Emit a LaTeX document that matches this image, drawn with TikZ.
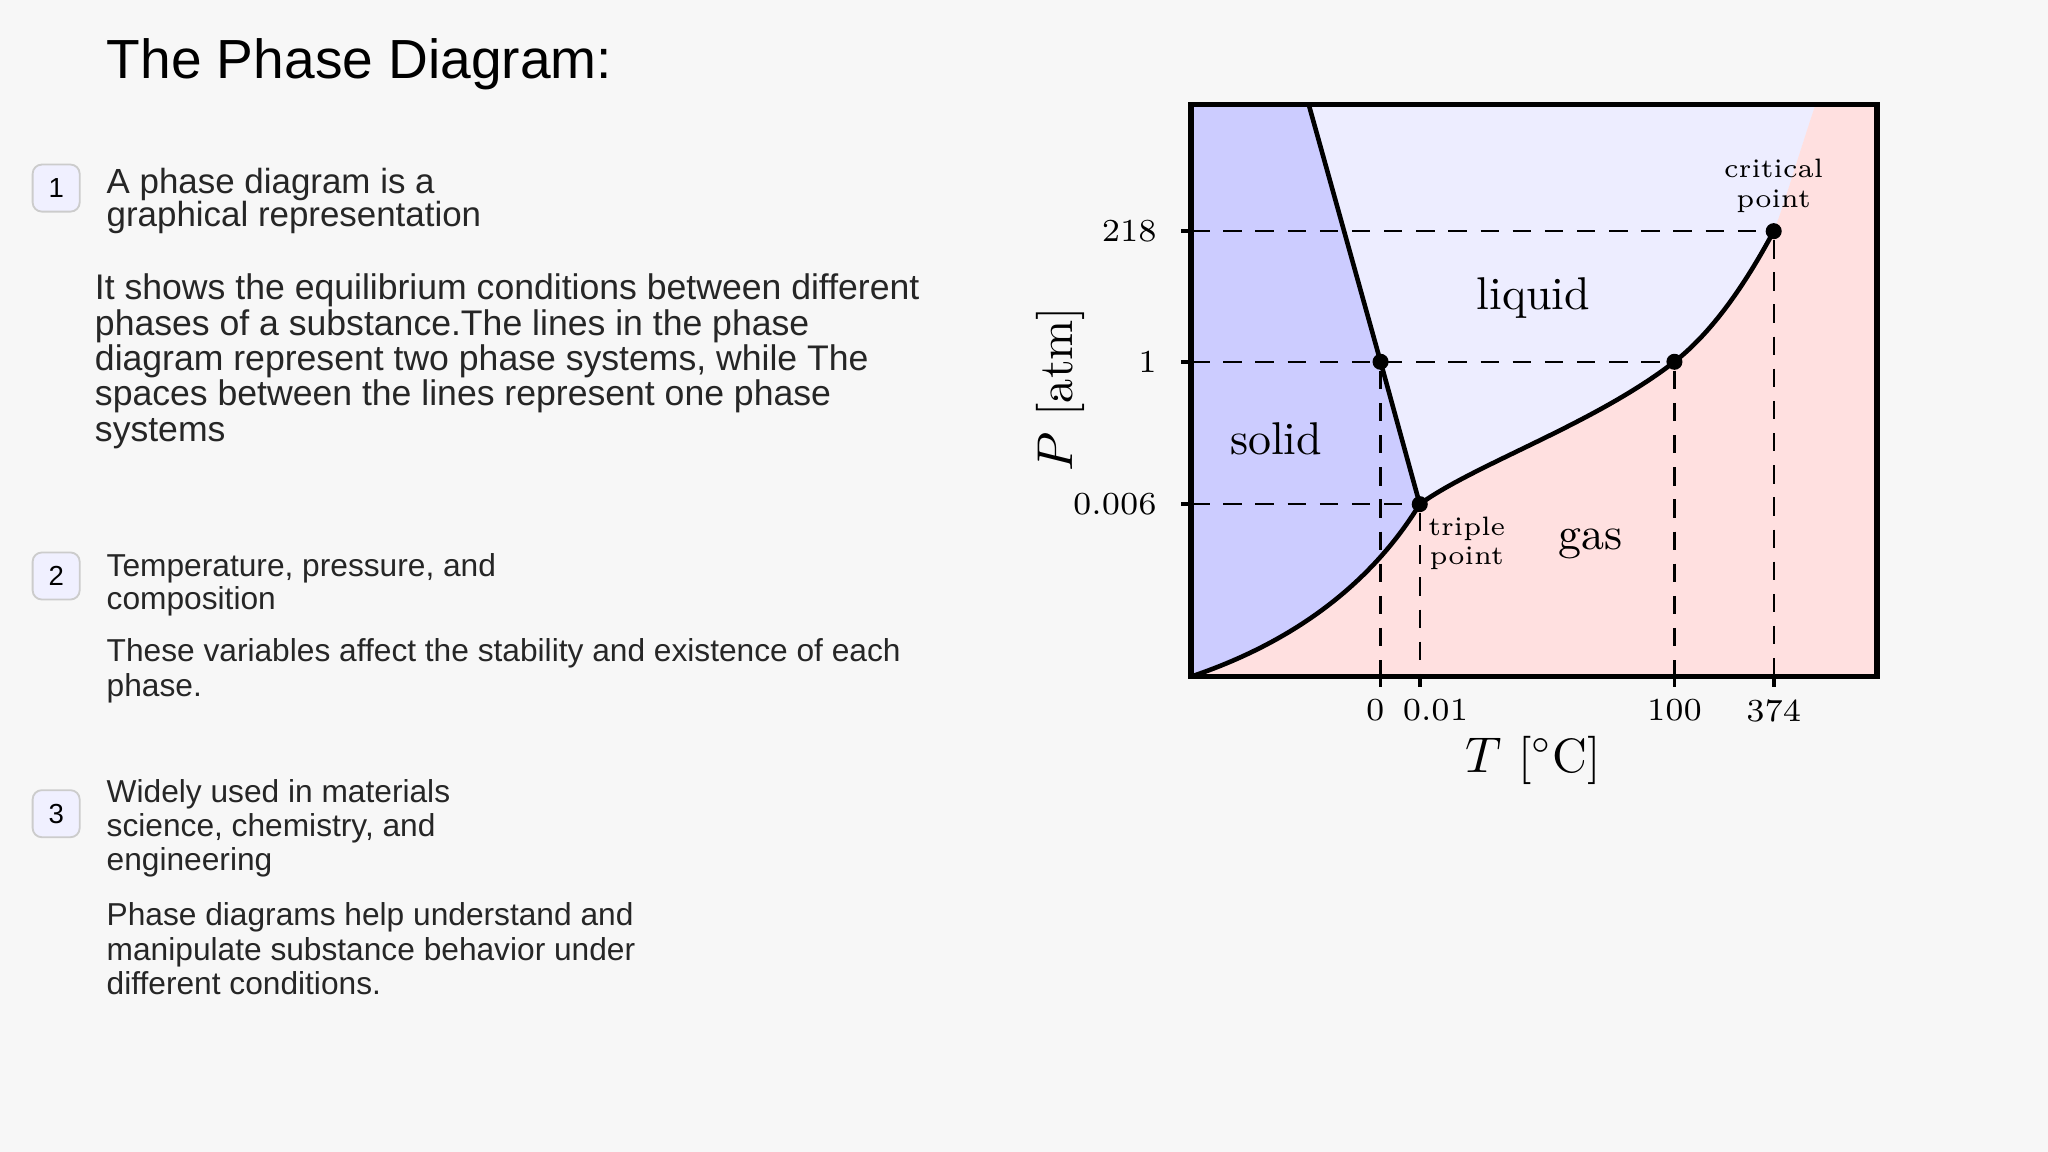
\documentclass[tikz,border=0pt]{standalone}
\usepackage{fontspec}
\newfontfamily\sans{Liberation Sans}
\begin{document}
\begin{tikzpicture}[x=0.01cm,y=-0.01cm,
  num/.style={draw=gray!40,fill=blue!6,rounded corners=2pt,minimum size=0.36cm,inner sep=0pt,font=\sans\fontsize{6}{7}\selectfont},
  txt/.style={anchor=north west,inner sep=0pt,align=left,text=black!85},
  dsh/.style={dashed,dash pattern=on 4pt off 3pt,line width=0.5pt},
  dot/.style={circle,fill=black,inner sep=0pt,minimum size=3.5pt},
  lm/.style={font=\fontsize{7}{7}\selectfont}]
\useasboundingbox (0,0) rectangle (1568,882);
\fill[gray!6] (0,0) rectangle (1568,882);
% title
\node[txt,font=\sans\fontsize{12}{14}\selectfont,text=black] (title) at (81,29) {The Phase Diagram:};
% item 1
\node[num] (n1) at (43,144) {1};
\node[txt,font=\sans\fontsize{7.6}{7.3}\selectfont] (h1) at (81,128) {A phase diagram is a\\graphical representation};
\node[txt,font=\sans\fontsize{7.75}{7.7}\selectfont] (p1) at (72,209) {It shows the equilibrium conditions between different\\phases of a substance.The lines in the phase\\diagram represent two phase systems, while The\\spaces between the lines represent one phase\\systems};
% item 2
\node[num] (n2) at (43,441) {2};
\node[txt,font=\sans\fontsize{6.9}{7.2}\selectfont] (h2) at (81,423) {Temperature, pressure, and\\composition};
\node[txt,font=\sans\fontsize{6.9}{7.6}\selectfont] (p2) at (81,488) {These variables affect the stability and existence of each\\phase.};
% item 3
\node[num] (n3) at (43,623) {3};
\node[txt,font=\sans\fontsize{6.9}{7.4}\selectfont] (h3) at (81,596) {Widely used in materials\\science, chemistry, and\\engineering};
\node[txt,font=\sans\fontsize{6.9}{7.6}\selectfont] (p3) at (81,690) {Phase diagrams help understand and\\manipulate substance behavior under\\different conditions.};
% plot regions
\fill[blue!20] (912,80) -- (1002,80) -- (1057,277) -- (1087,386) .. controls (1060,430) and (1010,485) .. (912,518) -- cycle;
\fill[blue!7] (1002,80) -- (1390,80) .. controls (1375,125) and (1365,160) .. (1358,177) .. controls (1335,220) and (1310,255) .. (1282,277) .. controls (1220,325) and (1130,355) .. (1087,386) -- (1057,277) -- cycle;
\fill[red!12] (1390,80) -- (1437,80) -- (1437,518) -- (912,518) .. controls (1010,485) and (1060,430) .. (1087,386) .. controls (1130,355) and (1220,325) .. (1282,277) .. controls (1310,255) and (1335,220) .. (1358,177) .. controls (1365,160) and (1375,125) .. (1390,80) -- cycle;
% coordinates
\node[dot] (tp) at (1087,386) {};
\node[dot] (mp) at (1057,277) {};
\node[dot] (bp) at (1282,277) {};
\node[dot] (cp) at (1358,177) {};
\coordinate (top) at (1002,80);
\coordinate (org) at (912,518);
\coordinate (y218) at (912,177); \coordinate (y1) at (912,277); \coordinate (y6) at (912,386);
\coordinate (x0) at (1057,518); \coordinate (x1) at (1087,518); \coordinate (x100) at (1282,518); \coordinate (x374) at (1358,518);
% curves
\draw[line width=1pt] (top) -- (mp.center) -- (tp.center);
\draw[line width=1pt] (org) .. controls (1010,485) and (1060,430) .. (tp.center) .. controls (1130,355) and (1220,325) .. (bp.center) .. controls (1310,255) and (1335,220) .. (cp.center);
% dashed
\draw[dsh] (y218) -- (cp); \draw[dsh] (y1) -- (bp); \draw[dsh] (y6) -- (tp);
\draw[dsh] (mp) -- (x0); \draw[dsh] (tp) -- (x1); \draw[dsh] (bp) -- (x100); \draw[dsh] (cp) -- (x374);
% frame
\draw[line width=1.2pt] (912,80) rectangle (1437,518);
% ticks
\foreach \c in {y218,y1,y6} \draw[line width=0.8pt] (\c) -- ++(-8,0);
\foreach \c in {x0,x1,x100,x374} \draw[line width=0.8pt] (\c) -- ++(0,8);
\node[lm,anchor=east] (l218) at (898,177) {218};
\node[lm,anchor=east] (l1) at (898,277) {1};
\node[lm,anchor=east] (l6) at (898,386) {0.006};
\node[lm] (t0) at (1053,544) {0};
\node[lm] (t1) at (1099,544) {0.01};
\node[lm] (t100) at (1282,544) {100};
\node[lm] (t374) at (1358,544) {374};
\node[font=\fontsize{10.5}{11}\selectfont] (xl) at (1174,582) {$T$ [$^\circ$C]};
\node[font=\fontsize{10.5}{11}\selectfont,rotate=90] (yl) at (812,298) {$P$ [atm]};
\node[font=\fontsize{10}{10}\selectfont] (liq) at (1174,228) {liquid};
\node[font=\fontsize{10}{10}\selectfont] (sol) at (977,336) {solid};
\node[font=\fontsize{10}{10}\selectfont] (gas) at (1218,416) {gas};
\node[font=\fontsize{5.8}{6.5}\selectfont,align=center] (tpl) at (1123,416) {triple\\point};
\node[font=\fontsize{5.8}{6.5}\selectfont,align=center] (cpl) at (1358,142) {critical\\point};
\end{tikzpicture}
\end{document}
